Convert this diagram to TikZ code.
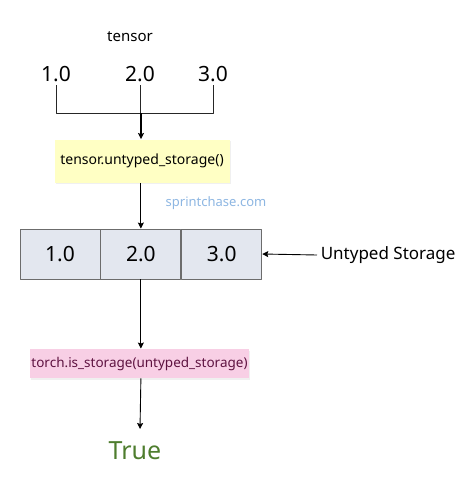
\documentclass[tikz,border=0pt]{standalone}
\usepackage{fontspec}
\setmainfont{Noto Sans}
\usetikzlibrary{positioning,shadows,arrows.meta}
\definecolor{noteyel}{HTML}{FFFFC4}
\definecolor{notepink}{HTML}{F8CFE5}
\definecolor{notepinktxt}{HTML}{5E1240}
\definecolor{cellblue}{HTML}{E3E7EF}
\definecolor{truegreen}{HTML}{4E7D2E}
\definecolor{wmblue}{HTML}{8DB6E2}
\newcommand\fsz[1]{\fontsize{#1}{#1}\selectfont}
\begin{document}
\begin{tikzpicture}[x=1pt, y=-1pt, line join=round, line width=.9pt, >={Stealth[length=6pt, width=6pt, inset=1pt]}]
	\useasboundingbox (0,0) rectangle (474,491);
	\tikzset{
		num/.style={font=\fsz{21}, inner sep=0pt},
		cell/.style={draw=gray!85!black, fill=cellblue, minimum width=80pt, minimum height=50pt, inner sep=0pt, font=\fsz{21}},
		call/.style={inner sep=0pt, drop shadow={opacity=.12, shadow xshift=1pt, shadow yshift=-1.5pt}}
	}
	% tensor values
	\node[font=\fsz{15}] (name) at (130,37) {tensor};
	\node[num] (t1) at (56,74) {1.0};
	\node[num] (t2) at (140,74) {2.0};
	\node[num] (t3) at (213,74) {3.0};
	\coordinate (j) at (141,113);
	\draw[gray!30!black] ([yshift=-3pt]t1.south) |- (t3.south |- j) -- ([yshift=-3pt]t3.south);
	\draw[gray!30!black] ([yshift=-3pt]t2.south) -- (t2.south |- j);
	% calls and storage
	\node[call, fill=noteyel, minimum width=175pt, minimum height=43pt, font=\fsz{14}] (us) at (142,161) {tensor.untyped\_storage()};
	\draw[->, line width=1.2pt] (j) -- (j |- us.north);
	\node[font=\fsz{13}, text=wmblue] (wm) at (216,203) {sprintchase.com};
	\node[cell] (c1) at (60,254) {1.0};
	\node[cell, right=0pt of c1] (c2) {2.0};
	\node[cell, right=0pt of c2] (c3) {3.0};
	\draw[->] (us.south -| c2) -- (c2.north);
	\node[font=\fsz{17}, anchor=west] (lab) at (317,255) {Untyped Storage};
	\draw[->] (lab.west) -- (c3.east);
	\node[call, fill=notepink, text=notepinktxt, minimum width=219pt, minimum height=29pt, font=\fsz{13.5}] (chk) at (139.5,363.5) {torch.is\_storage(untyped\_storage)};
	\draw[->] (c2.south) -- (chk.north -| c2);
	\node[font=\fsz{25}, text=truegreen] (res) at (135,451) {True};
	\coordinate (resin) at (140,429);
	\draw[->] (chk.south -| c2) -- (resin);
\end{tikzpicture}
\end{document}
